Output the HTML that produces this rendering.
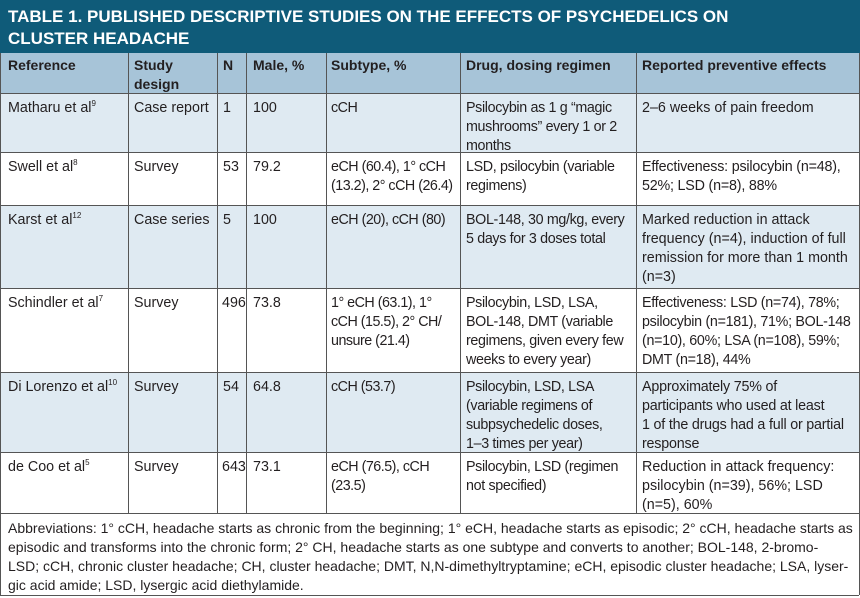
<!DOCTYPE html>
<html><head><meta charset="utf-8"><style>
body{margin:0;width:860px;height:598px;background:#fff;font-family:"Liberation Sans",sans-serif;color:#231f20;overflow:hidden;position:relative}
.t{position:absolute;left:0;top:0;width:860px;height:53px;background:#0f5b79;color:#fff;font-weight:bold;font-size:17px;line-height:22px;padding:6px 0 0 8px;box-sizing:border-box}
.row{position:absolute;left:0;width:859px;border-top:1px solid #555}
.c{position:absolute;top:0;font-size:14.3px;line-height:19px;white-space:nowrap;padding-top:5px}
.s{letter-spacing:-0.5px}
.d{letter-spacing:-0.35px}
.v{position:absolute;width:1px;background:#555}
sup{font-size:8px;line-height:0;vertical-align:6px}
.h .c{font-weight:bold;font-size:14px;letter-spacing:0}
</style></head><body>
<div class="t">TABLE 1. PUBLISHED DESCRIPTIVE STUDIES ON THE EFFECTS OF PSYCHEDELICS ON<br>CLUSTER HEADACHE</div>

<div class="row h" style="top:53px;height:40px;background:#a7c4d8;border-top:none">
<div class="c" style="left:8px;padding-top:3px">Reference</div>
<div class="c" style="left:134px;padding-top:3px">Study<br>design</div>
<div class="c" style="left:223px;padding-top:3px">N</div>
<div class="c" style="left:253px;padding-top:3px">Male, %</div>
<div class="c" style="left:331px;padding-top:3px">Subtype, %</div>
<div class="c" style="left:466px;padding-top:3px">Drug, dosing regimen</div>
<div class="c" style="left:642px;padding-top:3px">Reported preventive effects</div>
</div>

<div class="row" style="top:93px;height:59px;background:#dfeaf2">
<div class="c" style="left:8px">Matharu et al<sup>9</sup></div>
<div class="c" style="left:134px">Case report</div>
<div class="c" style="left:223px">1</div>
<div class="c" style="left:253px">100</div>
<div class="c s" style="left:331px">cCH</div>
<div class="c d" style="left:466px">Psilocybin as 1 g “magic<br>mushrooms” every 1 or 2<br>months</div>
<div class="c" style="left:642px">2–6 weeks of pain freedom</div>
</div>

<div class="row" style="top:152px;height:53px;background:#fff">
<div class="c" style="left:8px">Swell et al<sup>8</sup></div>
<div class="c" style="left:134px">Survey</div>
<div class="c" style="left:223px">53</div>
<div class="c" style="left:253px">79.2</div>
<div class="c s" style="left:331px">eCH (60.4), 1° cCH<br>(13.2), 2° cCH (26.4)</div>
<div class="c d" style="left:466px">LSD, psilocybin (variable<br>regimens)</div>
<div class="c" style="left:642px;letter-spacing:-0.2px">Effectiveness: psilocybin (n=48),<br>52%; LSD (n=8), 88%</div>
</div>

<div class="row" style="top:205px;height:83px;background:#dfeaf2">
<div class="c" style="left:8px">Karst et al<sup>12</sup></div>
<div class="c" style="left:134px">Case series</div>
<div class="c" style="left:223px">5</div>
<div class="c" style="left:253px">100</div>
<div class="c s" style="left:331px">eCH (20), cCH (80)</div>
<div class="c d" style="left:466px">BOL-148, 30 mg/kg, every<br>5 days for 3 doses total</div>
<div class="c" style="left:642px">Marked reduction in attack<br>frequency (n=4), induction of full<br>remission for more than 1 month<br>(n=3)</div>
</div>

<div class="row" style="top:288px;height:84px;background:#fff">
<div class="c" style="left:8px">Schindler et al<sup>7</sup></div>
<div class="c" style="left:134px">Survey</div>
<div class="c" style="left:222px">496</div>
<div class="c" style="left:253px">73.8</div>
<div class="c s" style="left:331px">1° eCH (63.1), 1°<br>cCH (15.5), 2° CH/<br>unsure (21.4)</div>
<div class="c d" style="left:466px">Psilocybin, LSD, LSA,<br>BOL-148, DMT (variable<br>regimens, given every few<br>weeks to every year)</div>
<div class="c" style="left:642px;letter-spacing:-0.3px">Effectiveness: LSD (n=74), 78%;<br>psilocybin (n=181), 71%; BOL-148<br>(n=10), 60%; LSA (n=108), 59%;<br>DMT (n=18), 44%</div>
</div>

<div class="row" style="top:372px;height:80px;background:#dfeaf2">
<div class="c" style="left:8px">Di Lorenzo et al<sup>10</sup></div>
<div class="c" style="left:134px">Survey</div>
<div class="c" style="left:223px">54</div>
<div class="c" style="left:253px">64.8</div>
<div class="c s" style="left:331px">cCH (53.7)</div>
<div class="c d" style="left:466px">Psilocybin, LSD, LSA<br>(variable regimens of<br>subpsychedelic doses,<br>1–3 times per year)</div>
<div class="c" style="left:642px;letter-spacing:-0.2px">Approximately 75% of<br>participants who used at least<br>1 of the drugs had a full or partial<br>response</div>
</div>

<div class="row" style="top:452px;height:61px;background:#fff">
<div class="c" style="left:8px">de Coo et al<sup>5</sup></div>
<div class="c" style="left:134px">Survey</div>
<div class="c" style="left:222px">643</div>
<div class="c" style="left:253px">73.1</div>
<div class="c s" style="left:331px">eCH (76.5), cCH<br>(23.5)</div>
<div class="c d" style="left:466px">Psilocybin, LSD (regimen<br>not specified)</div>
<div class="c" style="left:642px">Reduction in attack frequency:<br>psilocybin (n=39), 56%; LSD<br>(n=5), 60%</div>
</div>

<div class="row" style="top:513px;height:81px;background:#fff;border-bottom:1px solid #555">
<div class="c" style="left:8px;font-size:14px">Abbreviations: 1° cCH, headache starts as chronic from the beginning; 1° eCH, headache starts as episodic; 2° cCH, headache starts as<br>episodic and transforms into the chronic form; 2° CH, headache starts as one subtype and converts to another; BOL-148, 2-bromo-<br>LSD; cCH, chronic cluster headache; CH, cluster headache; DMT, N,N-dimethyltryptamine; eCH, episodic cluster headache; LSA, lyser-<br>gic acid amide; LSD, lysergic acid diethylamide.</div>
</div>

<div class="v" style="left:0;top:53px;height:542px"></div>
<div class="v" style="left:859px;top:53px;height:542px"></div>
<div class="v" style="left:128px;top:53px;height:460px"></div>
<div class="v" style="left:217px;top:53px;height:460px"></div>
<div class="v" style="left:246px;top:53px;height:460px"></div>
<div class="v" style="left:326px;top:53px;height:460px"></div>
<div class="v" style="left:460px;top:53px;height:460px"></div>
<div class="v" style="left:636px;top:53px;height:460px"></div>
</body></html>
